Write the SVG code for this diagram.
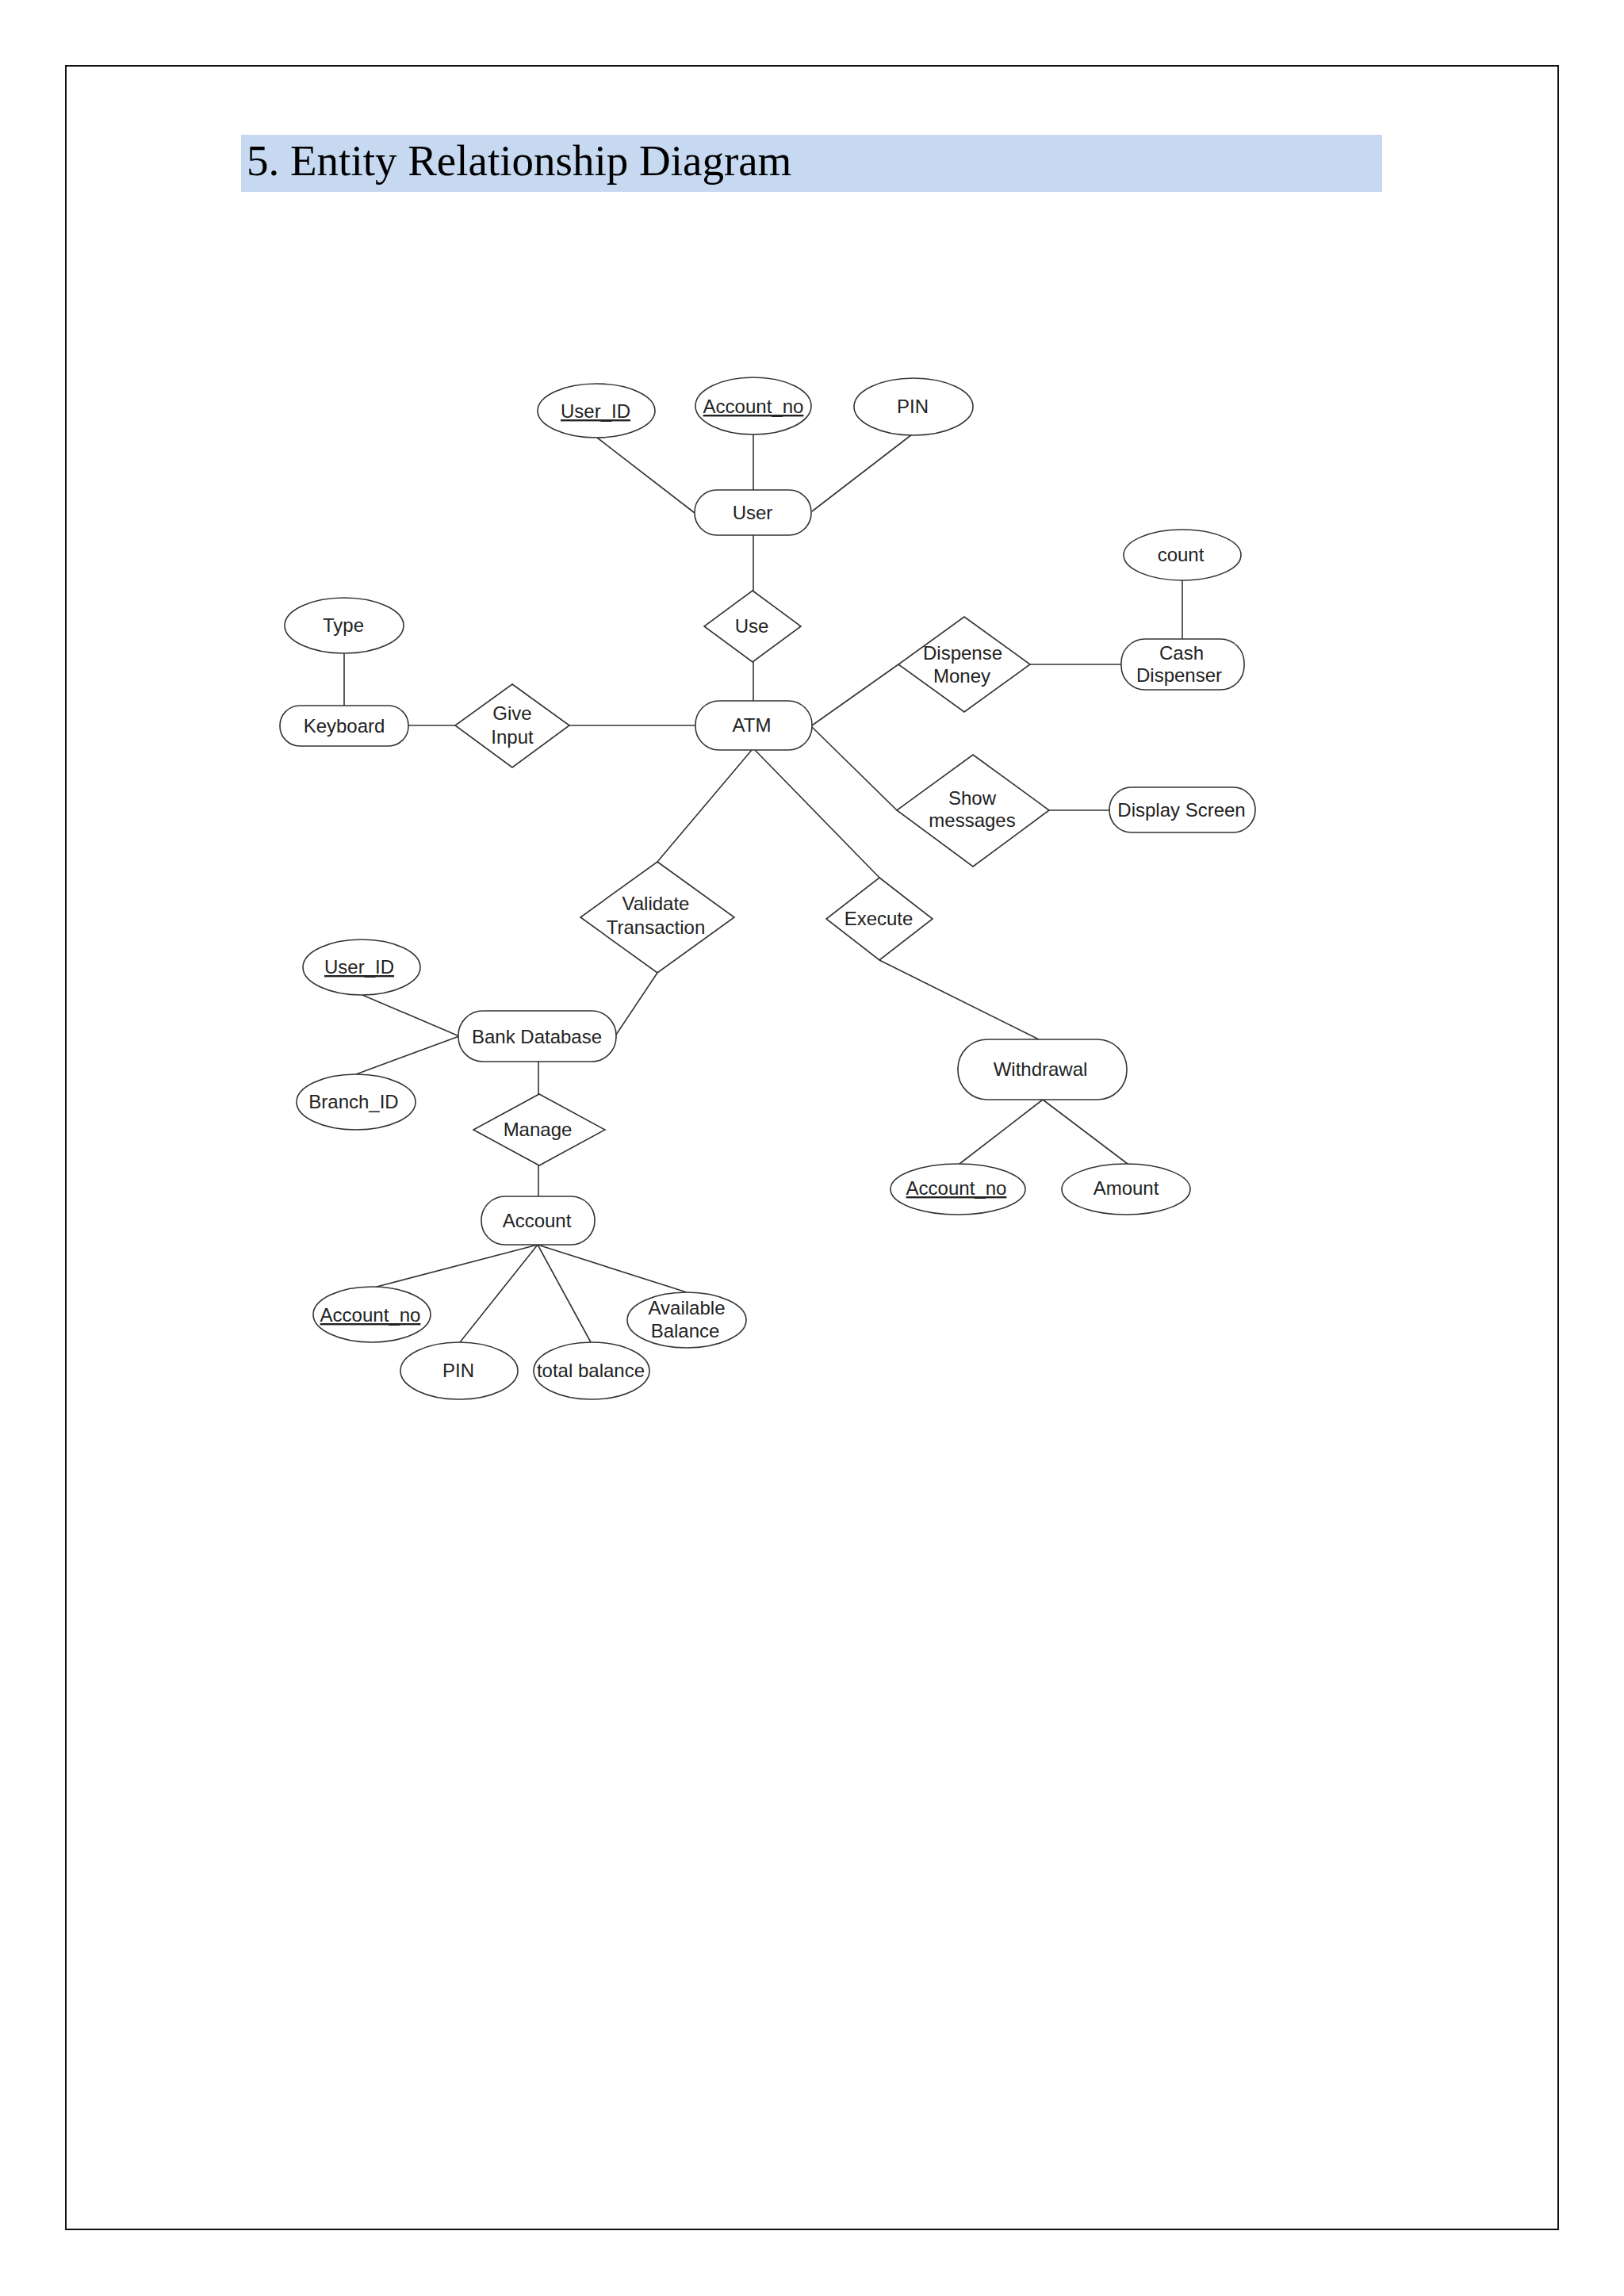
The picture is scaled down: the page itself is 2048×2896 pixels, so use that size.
<svg xmlns="http://www.w3.org/2000/svg" width="2048" height="2896" viewBox="0 0 2048 2896">
<style>
.shape{fill:#ffffff;stroke:#333333;stroke-width:1.6}
.conn line{stroke:#333333;stroke-width:1.6}
.lbl{font-family:"Liberation Sans",Arial,sans-serif;font-size:24px;fill:#222222;text-anchor:middle}
.key{text-decoration:underline}
</style>
<rect x="0" y="0" width="2048" height="2896" fill="#ffffff"/>
<rect x="83" y="83" width="1882" height="2729" fill="none" stroke="#111111" stroke-width="2"/>
<g id="title">
<rect x="304" y="170" width="1439" height="72" fill="#c6d9f1"/>
<text x="311" y="221" font-family="'Liberation Serif','Times New Roman',serif" font-size="55" fill="#000000">5. Entity Relationship Diagram</text>
</g>
<g id="connectors" class="conn">
<line x1="753" y1="552" x2="876" y2="647"/>
<line x1="950" y1="548" x2="950" y2="618"/>
<line x1="1150" y1="548" x2="1024" y2="645"/>
<line x1="950" y1="675" x2="950" y2="745"/>
<line x1="950" y1="835" x2="950" y2="884"/>
<line x1="434" y1="824" x2="434" y2="890"/>
<line x1="515" y1="915" x2="574" y2="915"/>
<line x1="718" y1="915" x2="877" y2="915"/>
<line x1="1024" y1="915" x2="1133" y2="838"/>
<line x1="1299" y1="838" x2="1414" y2="838"/>
<line x1="1491" y1="732" x2="1491" y2="806"/>
<line x1="1024" y1="917" x2="1131" y2="1022"/>
<line x1="1323" y1="1022" x2="1399" y2="1022"/>
<line x1="948" y1="946" x2="829" y2="1087"/>
<line x1="952" y1="946" x2="1109" y2="1107"/>
<line x1="829" y1="1227" x2="777" y2="1305"/>
<line x1="457" y1="1255" x2="579" y2="1307"/>
<line x1="449" y1="1355" x2="579" y2="1307"/>
<line x1="679" y1="1339" x2="679" y2="1380"/>
<line x1="679" y1="1470" x2="679" y2="1509"/>
<line x1="678" y1="1570" x2="475" y2="1623"/>
<line x1="678" y1="1570" x2="580" y2="1693"/>
<line x1="678" y1="1570" x2="745" y2="1693"/>
<line x1="678" y1="1570" x2="866" y2="1630"/>
<line x1="1109" y1="1211" x2="1310" y2="1311"/>
<line x1="1315" y1="1387" x2="1210" y2="1468"/>
<line x1="1315" y1="1387" x2="1422" y2="1468"/>
</g>
<g id="user_id_attr"><ellipse class="shape" cx="752" cy="518" rx="74" ry="34"/><text class="lbl key" x="751" y="527">User_ID</text></g>
<g id="user_account_no_attr"><ellipse class="shape" cx="950" cy="512" rx="73" ry="36"/><text class="lbl key" x="950" y="521">Account_no</text></g>
<g id="user_pin_attr"><ellipse class="shape" cx="1152" cy="513" rx="75" ry="36"/><text class="lbl" x="1151" y="521">PIN</text></g>
<g id="user"><rect class="shape" x="876" y="618" width="147" height="57" rx="28" ry="28"/><text class="lbl" x="949" y="655">User</text></g>
<g id="use"><polygon class="shape" points="949,745 1010,790 949,835 888,790"/><text class="lbl" x="948" y="798">Use</text></g>
<g id="atm"><rect class="shape" x="877" y="884" width="147" height="62" rx="30" ry="30"/><text class="lbl" x="948" y="923">ATM</text></g>
<g id="type_attr"><ellipse class="shape" cx="434" cy="789" rx="75" ry="35"/><text class="lbl" x="433" y="797">Type</text></g>
<g id="keyboard"><rect class="shape" x="353" y="890" width="162" height="51" rx="25" ry="25"/><text class="lbl" x="434" y="924">Keyboard</text></g>
<g id="give_input"><polygon class="shape" points="646,863 718,915 646,968 574,915"/><text class="lbl" x="646" y="908">Give</text><text class="lbl" x="646" y="938">Input</text></g>
<g id="dispense_money"><polygon class="shape" points="1216,778 1299,838 1216,898 1133,838"/><text class="lbl" x="1214" y="832">Dispense</text><text class="lbl" x="1213" y="861">Money</text></g>
<g id="count_attr"><ellipse class="shape" cx="1491" cy="700" rx="74" ry="32"/><text class="lbl" x="1489" y="708">count</text></g>
<g id="cash_dispenser"><rect class="shape" x="1414" y="806" width="155" height="64" rx="30" ry="30"/><text class="lbl" x="1490" y="832">Cash</text><text class="lbl" x="1487" y="860">Dispenser</text></g>
<g id="show_messages"><polygon class="shape" points="1227,952 1323,1022 1227,1093 1131,1022"/><text class="lbl" x="1226" y="1015">Show</text><text class="lbl" x="1226" y="1043">messages</text></g>
<g id="display_screen"><rect class="shape" x="1399" y="993" width="184" height="57" rx="28" ry="28"/><text class="lbl" x="1490" y="1030">Display Screen</text></g>
<g id="validate_transaction"><polygon class="shape" points="829,1087 926,1157 829,1227 732,1157"/><text class="lbl" x="827" y="1148">Validate</text><text class="lbl" x="827" y="1178">Transaction</text></g>
<g id="execute"><polygon class="shape" points="1109,1107 1176,1159 1109,1211 1042,1159"/><text class="lbl" x="1108" y="1167">Execute</text></g>
<g id="bank_user_id_attr"><ellipse class="shape" cx="456" cy="1220" rx="74" ry="35"/><text class="lbl key" x="453" y="1228">User_ID</text></g>
<g id="branch_id_attr"><ellipse class="shape" cx="449" cy="1390" rx="75" ry="35"/><text class="lbl" x="446" y="1398">Branch_ID</text></g>
<g id="bank_database"><rect class="shape" x="578" y="1275" width="199" height="64" rx="31" ry="31"/><text class="lbl" x="677" y="1316">Bank Database</text></g>
<g id="manage"><polygon class="shape" points="680,1380 763,1425 680,1470 597,1425"/><text class="lbl" x="678" y="1433">Manage</text></g>
<g id="account"><rect class="shape" x="607" y="1509" width="143" height="61" rx="30" ry="30"/><text class="lbl" x="677" y="1548">Account</text></g>
<g id="account_no_attr"><ellipse class="shape" cx="469" cy="1658" rx="74" ry="35"/><text class="lbl key" x="467" y="1667">Account_no</text></g>
<g id="account_pin_attr"><ellipse class="shape" cx="579" cy="1729" rx="74" ry="36"/><text class="lbl" x="578" y="1737">PIN</text></g>
<g id="total_balance_attr"><ellipse class="shape" cx="746" cy="1729" rx="73" ry="36"/><text class="lbl" x="745" y="1737">total balance</text></g>
<g id="available_balance_attr"><ellipse class="shape" cx="866" cy="1665" rx="75" ry="35"/><text class="lbl" x="866" y="1658">Available</text><text class="lbl" x="864" y="1687">Balance</text></g>
<g id="withdrawal"><rect class="shape" x="1208" y="1311" width="213" height="76" rx="37" ry="37"/><text class="lbl" x="1312" y="1357">Withdrawal</text></g>
<g id="withdrawal_account_no_attr"><ellipse class="shape" cx="1208" cy="1500" rx="85" ry="32"/><text class="lbl key" x="1206" y="1507">Account_no</text></g>
<g id="amount_attr"><ellipse class="shape" cx="1420" cy="1500" rx="81" ry="32"/><text class="lbl" x="1420" y="1507">Amount</text></g>
</svg>
